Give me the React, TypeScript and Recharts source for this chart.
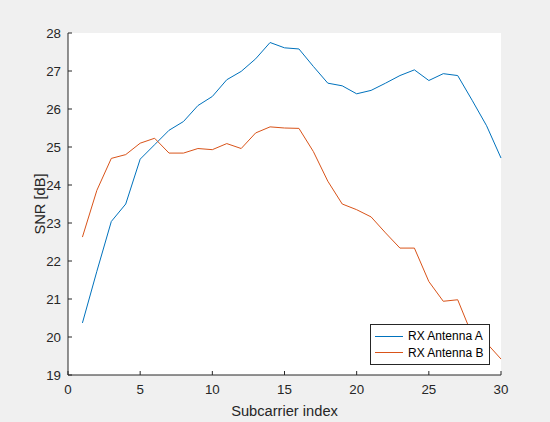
import React from "react";
import {
  LineChart,
  Line,
  XAxis,
  YAxis,
  CartesianGrid,
  Legend,
} from "recharts";

const subcarriers = [
  1, 2, 3, 4, 5, 6, 7, 8, 9, 10, 11, 12, 13, 14, 15, 16, 17, 18, 19, 20, 21,
  22, 23, 24, 25, 26, 27, 28, 29, 30,
];
const antennaA = [
  20.37, 21.73, 23.04, 23.5, 24.68, 25.06, 25.44, 25.67, 26.09, 26.33, 26.77,
  26.99, 27.32, 27.75, 27.61, 27.58, 27.12, 26.68, 26.61, 26.4, 26.49, 26.68,
  26.88, 27.03, 26.75, 26.93, 26.88, 26.23, 25.56, 24.71,
];
const antennaB = [
  22.63, 23.86, 24.7, 24.8, 25.1, 25.23, 24.84, 24.84, 24.96, 24.93, 25.09,
  24.96, 25.37, 25.53, 25.5, 25.49, 24.88, 24.1, 23.5, 23.35, 23.16, 22.74,
  22.34, 22.34, 21.46, 20.94, 20.98, 20.05, 19.84, 19.42,
];
const xTicks = [0, 5, 10, 15, 20, 25, 30];
const yTicks = [19, 20, 21, 22, 23, 24, 25, 26, 27, 28];

const series = [
  { key: "a", name: "RX Antenna A", color: "#0072BD" },
  { key: "b", name: "RX Antenna B", color: "#D95319" },
];

const data = subcarriers.map((x, i) => ({ x, a: antennaA[i], b: antennaB[i] }));

const FONT = '"Liberation Sans", Arial, Helvetica, sans-serif';
const INK = "#262626";

// MATLAB-style boxed legend in the lower right corner
function BoxLegend() {
  return (
    <div
      style={{
        background: "#fff",
        border: `1px solid ${INK}`,
        padding: "3px 6px 3px 4px",
        fontFamily: FONT,
        fontSize: 12,
        color: "#000",
        lineHeight: "16.5px",
      }}
    >
      {series.map((s) => (
        <div key={s.key} style={{ display: "flex", alignItems: "center", whiteSpace: "nowrap" }}>
          <span
            style={{
              display: "inline-block",
              width: 28,
              height: 0,
              borderTop: `1px solid ${s.color}`,
              marginRight: 5,
            }}
          />
          {s.name}
        </div>
      ))}
    </div>
  );
}

function YTitle(props: any) {
  const vb = props.viewBox || { x: 0, y: 0, height: 0 };
  const cx = vb.x + 45;
  const cy = vb.y + vb.height / 2;
  return (
    <text
      x={cx}
      y={cy}
      transform={`rotate(-90 ${cx} ${cy})`}
      textAnchor="middle"
      fontFamily={FONT}
      fontSize={14.67}
      fill={INK}
    >
      SNR [dB]
    </text>
  );
}

export default function App() {
  const tickStyle = { fontFamily: FONT, fontSize: 13.33, fill: INK };
  return (
    <div
      style={{
        position: "fixed",
        left: 0,
        top: 0,
        width: 550,
        height: 422,
        background: "#F0F0F0",
      }}
    >
      <LineChart
        width={550}
        height={422}
        data={data}
        margin={{ top: 33, right: 49, bottom: 0, left: 0 }}
      >
        <CartesianGrid horizontal={false} vertical={false} fill="#ffffff" />
        <XAxis
          dataKey="x"
          type="number"
          domain={[0, 30]}
          ticks={xTicks}
          height={47}
          tickSize={-4}
          tickMargin={14}
          stroke={INK}
          tick={tickStyle}
          label={{
            value: "Subcarrier index",
            position: "insideBottom",
            offset: 6,
            fontFamily: FONT,
            fontSize: 14.67,
            fill: INK,
          }}
        />
        <XAxis
          xAxisId="top"
          orientation="top"
          dataKey="x"
          type="number"
          domain={[0, 30]}
          ticks={xTicks}
          height={0}
          tickSize={-4}
          stroke={INK}
          tick={false}
        />
        <YAxis
          type="number"
          domain={[19, 28]}
          ticks={yTicks}
          width={68}
          tickSize={-4}
          tickMargin={11}
          stroke={INK}
          tick={tickStyle}
          label={<YTitle />}
        />
        <YAxis
          yAxisId="right"
          orientation="right"
          type="number"
          domain={[19, 28]}
          ticks={yTicks}
          width={0}
          tickSize={-4}
          stroke={INK}
          tick={false}
        />
        {series.map((s) => (
          <Line
            key={s.key}
            type="linear"
            dataKey={s.key}
            name={s.name}
            stroke={s.color}
            strokeWidth={1}
            dot={false}
            activeDot={false}
            isAnimationActive={false}
          />
        ))}
        <Legend
          layout="vertical"
          align="center"
          verticalAlign="middle"
          content={<BoxLegend />}
          wrapperStyle={{ left: 370, top: 324, width: "auto" }}
        />
      </LineChart>
    </div>
  );
}
